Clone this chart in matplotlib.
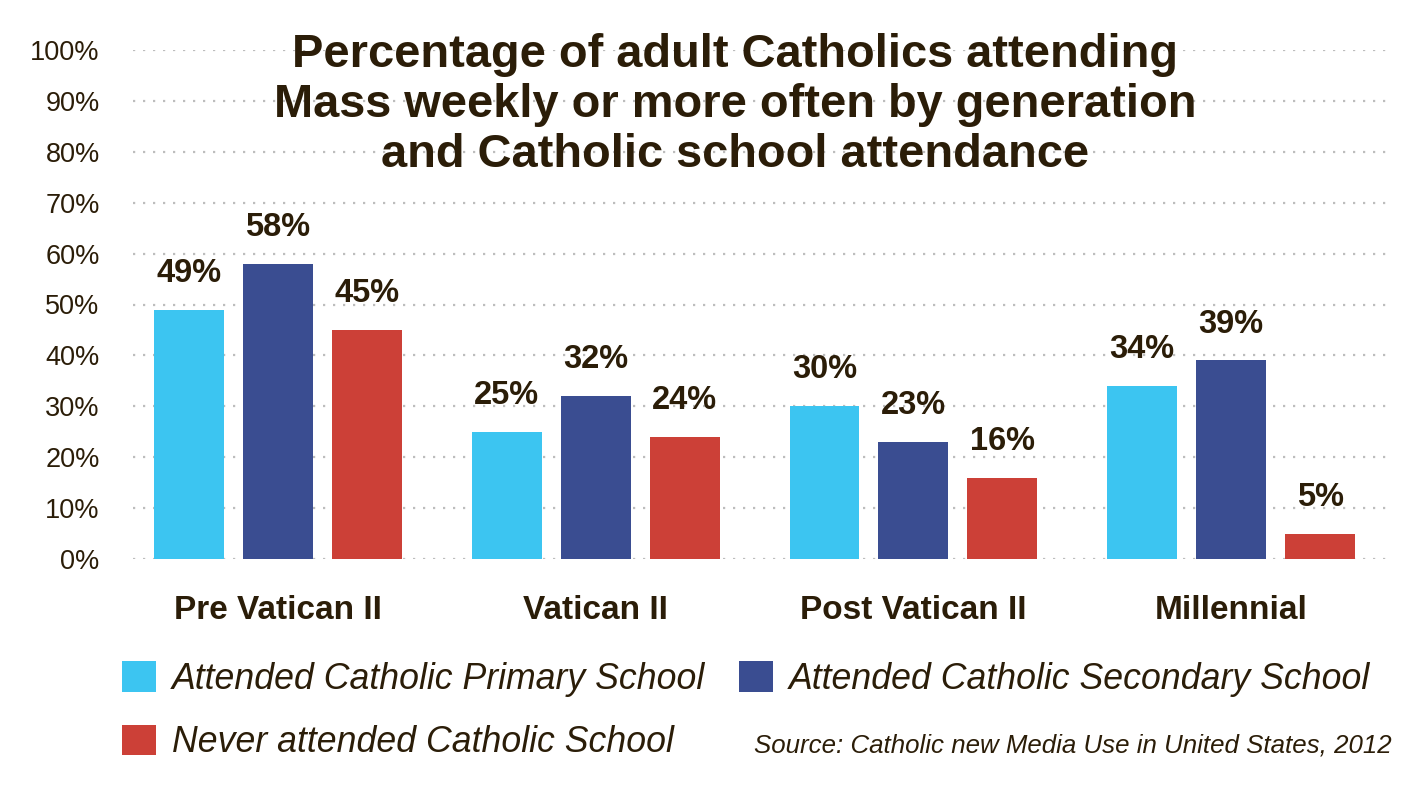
import numpy as np
import matplotlib.pyplot as plt

# data
generations = ["Pre Vatican II", "Vatican II", "Post Vatican II", "Millennial"]
series_names = ["Attended Catholic Primary School",
                "Attended Catholic Secondary School",
                "Never attended Catholic School"]
primary = [49, 25, 30, 34]
secondary = [58, 32, 23, 39]
never = [45, 24, 16, 5]
y_ticks = [0, 10, 20, 30, 40, 50, 60, 70, 80, 90, 100]

colors = ["#3CC5F1", "#3A4D91", "#CC4037"]
text_col = "#2B1D08"

W, H = 1424, 790
fig = plt.figure(figsize=(W / 100, H / 100), dpi=100)
ax = fig.add_axes([133 / W, 1 - 559 / H, 1259 / W, 509 / H])

x = np.arange(len(generations))
pitch = 0.28
width = 0.22
bars = []
for i, (vals, c) in enumerate(zip([primary, secondary, never], colors)):
    b = ax.bar(x + (i - 1) * pitch, vals, width, color=c, zorder=3)
    bars.append(b)
    for xi, v in zip(x + (i - 1) * pitch, vals):
        ax.annotate(f"{v}%", (xi, v), xytext=(0, 15), textcoords="offset points",
                    ha="center", va="bottom", fontsize=23.5, fontweight="bold",
                    color=text_col, family="Liberation Sans")

ax.set_xlim(-0.456, 3.506)
ax.set_ylim(0, 100)
ax.set_yticks(y_ticks)
ax.set_yticklabels([f"{t}%" for t in y_ticks], fontsize=19.5, color=text_col,
                   family="Liberation Sans")
ax.tick_params(axis="y", length=0, pad=24)
ax.set_xticks(x)
ax.set_xticklabels(generations, fontsize=24, fontweight="bold", color=text_col,
                   family="Liberation Sans")
ax.tick_params(axis="x", length=0, pad=26)
ax.grid(axis="y", color="#BDBDBD", linestyle=(0, (1, 3.5)), linewidth=1.6, zorder=0)
for s in ax.spines.values():
    s.set_visible(False)

fig.text(735 / W, 1 - 33 / H,
         "Percentage of adult Catholics attending\nMass weekly or more often by generation\nand Catholic school attendance",
         ha="center", va="top", fontsize=33.8, fontweight="heavy", color=text_col,
         family="Liberation Sans", linespacing=1.18)

handles = [bars[0], bars[2], bars[1]]
labels = [series_names[0], series_names[2], series_names[1]]
fig.legend(handles, labels, loc="upper left", bbox_to_anchor=(122 / W, 1 - 661 / H),
           ncol=2, frameon=False, borderpad=0, borderaxespad=0,
           prop={"family": "Liberation Sans", "style": "italic", "size": 25.7},
           handlelength=0.95, handleheight=0.95, handletextpad=0.45,
           labelspacing=0.78, columnspacing=0.95, labelcolor=text_col)

fig.text(1392 / W, 1 - 746 / H, "Source: Catholic new Media Use in United States, 2012",
         ha="right", va="center", fontsize=18.6, style="italic", color=text_col,
         family="Liberation Sans")

fig.savefig("out.png", dpi=100)
